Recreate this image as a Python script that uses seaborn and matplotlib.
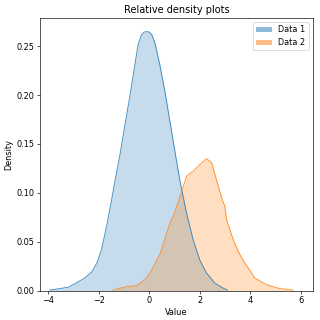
import matplotlib
matplotlib.use("Agg")
import matplotlib.pyplot as plt
import seaborn as sns
import pandas as pd
from matplotlib.patches import Patch

# density curves
x1 = [-3.95, -3.55, -3.2, -2.88, -2.55, -2.28, -2.08, -1.89, -1.69, -1.49, -1.36, -1.16,
      -0.96, -0.76, -0.57, -0.44, -0.30, -0.20, -0.10, 0.0, 0.10, 0.23, 0.42, 0.62, 0.82,
      1.02, 1.22, 1.48, 1.74, 2.01, 2.27, 2.60, 2.93, 3.10]
d1 = [0.0005, 0.002, 0.0035, 0.008, 0.013, 0.019, 0.028, 0.042, 0.066, 0.093, 0.112, 0.139,
      0.170, 0.200, 0.231, 0.252, 0.262, 0.2645, 0.265, 0.2645, 0.262, 0.253, 0.231, 0.204, 0.173,
      0.142, 0.112, 0.079, 0.052, 0.031, 0.018, 0.0076, 0.0025, 0.0005]

x2 = [-1.44, -0.9, -0.5, -0.17, 0.03, 0.42, 0.82, 0.95, 1.22, 1.48, 1.61, 1.74, 2.01, 2.27,
      2.47, 2.67, 2.87, 3.0, 3.07, 3.33, 3.57, 3.72, 4.19, 4.65, 5.18, 5.7]
d2 = [0.0005, 0.004, 0.005, 0.011, 0.018, 0.037, 0.069, 0.076, 0.096, 0.117, 0.120, 0.122,
      0.129, 0.135, 0.131, 0.113, 0.095, 0.086, 0.072, 0.052, 0.038, 0.031, 0.0127, 0.006,
      0.002, 0.0005]

labels = ['Data 1', 'Data 2']

df1 = pd.DataFrame({'Value': x1, 'Density': d1})
df2 = pd.DataFrame({'Value': x2, 'Density': d2})

fig, ax = plt.subplots(figsize=(5.5, 5.5))
handles = []
for df, c, lab in zip([df1, df2], ['C0', 'C1'], labels):
    sns.lineplot(data=df, x='Value', y='Density', color=c, linewidth=1.2, alpha=0.8, ax=ax)
    ax.fill_between(df['Value'], df['Density'], color=c, alpha=0.25, linewidth=0)
    handles.append(Patch(facecolor=c, alpha=0.5, label=lab))

ax.set_xlim(-4.33, 6.49)
ax.set_ylim(0, 0.279)
ax.set_title('Relative density plots')
ax.set_xlabel('Value')
ax.set_ylabel('Density')
ax.legend(handles=handles, loc='upper right')

plt.subplots_adjust(left=0.125, right=0.978, bottom=0.092, top=0.944)
plt.savefig('out.png', dpi=320 / 5.5)
